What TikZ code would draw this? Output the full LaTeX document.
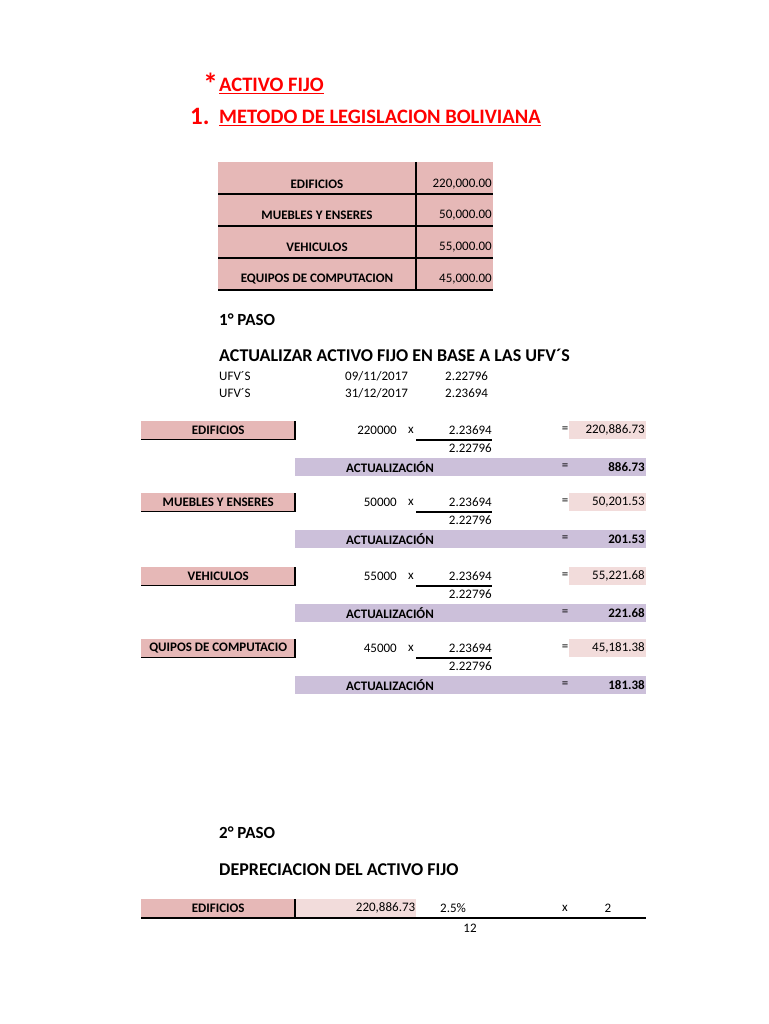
\documentclass[tikz,border=0pt]{standalone}
\usepackage{fontspec}
\setmainfont{Carlito}
\begin{document}
\begin{tikzpicture}[x=1pt,y=-1pt,
  txt/.style={inner sep=0pt,font=\fontsize{13}{14}\selectfont},
  bt/.style={txt,font=\fontsize{13}{14}\selectfont\bfseries},
  hd/.style={inner sep=0pt,anchor=west,font=\fontsize{18}{20}\selectfont\bfseries},
  lbl/.style={bt,fill=pinkA,minimum width=154pt,minimum height=18pt,anchor=west},
  res/.style={txt,fill=pinkB,minimum width=77pt,minimum height=18pt,anchor=east,align=right,text width=75pt,inner xsep=1pt}]
\definecolor{pinkA}{HTML}{E6B8B7}
\definecolor{pinkB}{HTML}{F2DCDB}
\definecolor{lilac}{HTML}{CCC0DA}
\useasboundingbox (0,0) rectangle (768,1024);
\node[anchor=west,text=red,inner sep=0pt,font=\fontsize{30}{30}\selectfont\bfseries] (star) at (203,84) {*};
\node[anchor=west,text=red,inner sep=0pt,font=\fontsize{20.5}{22}\selectfont\bfseries] (t1) at (219,86) {\underline{ACTIVO FIJO}};
\node[anchor=west,text=red,inner sep=0pt,font=\fontsize{25}{26}\selectfont\bfseries] (n1) at (190,116) {1.};
\node[anchor=west,text=red,inner sep=0pt,font=\fontsize{20.5}{22}\selectfont\bfseries] (t2) at (219,118) {\underline{METODO DE LEGISLACION BOLIVIANA}};
% table
\fill[pinkA] (218,162) rectangle (493,290);
\foreach \y in {194,226,258,290} \draw[line width=1.2pt] (218,\y) -- (493,\y);
\draw[line width=1.5pt] (416,162) -- (416,290);
\foreach \y/\a/\b [count=\i] in {184/EDIFICIOS/{220,000.00},215/MUEBLES Y ENSERES/{50,000.00},247/VEHICULOS/{55,000.00},279/EQUIPOS DE COMPUTACION/{45,000.00}}{
  \node[bt] (ta\i) at (317,\y) {\a};
  \node[txt,anchor=east] (tb\i) at (492,\y) {\b};
}
\node[hd,font=\fontsize{17}{18}\selectfont\bfseries] (p1) at (219,320) {1° PASO};
\node[hd] (p1t) at (219,355) {ACTUALIZAR ACTIVO FIJO EN BASE A LAS UFV´S};
\node[txt,anchor=west] (u1) at (219,376) {UFV´S};
\node[txt,anchor=west] (d1) at (345,376) {09/11/2017};
\node[txt,anchor=west] (v1) at (445,376) {2.22796};
\node[txt,anchor=west] (u2) at (219,393) {UFV´S};
\node[txt,anchor=west] (d2) at (345,393) {31/12/2017};
\node[txt,anchor=west] (v2) at (445,393) {2.23694};
\foreach \y/\a/\n/\r/\d [count=\i] in {430/EDIFICIOS/220000/{220,886.73}/886.73,502/MUEBLES Y ENSERES/50000/{50,201.53}/201.53,576/VEHICULOS/55000/{55,221.68}/221.68,648/QUIPOS DE COMPUTACIO/45000/{45,181.38}/181.38}{
  \node[lbl] (l\i) at (141,\y) {\a};
  \draw[line width=1.6pt] (295,\y-9) -- (295,\y+9);
  \draw[line width=0.8pt] (141,\y+9) -- (296,\y+9);
  \node[txt,anchor=east] (n\i) at (397,\y) {\n};
  \node[txt] (x\i) at (411,\y) {x};
  \node[txt,anchor=east] (num\i) at (492,\y) {2.23694};
  \draw[line width=1.3pt] (416,\y+10) -- (492,\y+10);
  \node[txt,anchor=east] (den\i) at (492,\y+18) {2.22796};
  \node[res] (r\i) at (646,\y) {\r};
  \node[txt] (e\i) at (565,\y) {=};
  \fill[lilac] (295,\y+28) rectangle (646,\y+46);
  \node[bt,anchor=west] (a\i) at (346,\y+37) {ACTUALIZACIÓN};
  \node[txt] (ea\i) at (565,\y+37) {=};
  \node[bt,anchor=east] (av\i) at (645,\y+37) {\d};
}
\node[hd,font=\fontsize{17}{18}\selectfont\bfseries] (p2) at (219,833) {2° PASO};
\node[hd] (p2t) at (219,870) {DEPRECIACION DEL ACTIVO FIJO};
\node[lbl] (l5) at (141,908) {EDIFICIOS};
\node[txt,fill=pinkB,minimum width=120pt,minimum height=18pt,anchor=west,text width=118pt,align=right,inner xsep=1pt] (v5) at (296,908) {220,886.73};
\draw[line width=1.6pt] (295,899) -- (295,917);
\draw[line width=1.2pt] (141,918) -- (646,918);
\node[txt,anchor=west] (pc) at (440,908) {2.5\%};
\node[txt] (x5) at (565,908) {x};
\node[txt] (two) at (608,908) {2};
\node[txt] (tw) at (470,928) {12};
\end{tikzpicture}
\end{document}
